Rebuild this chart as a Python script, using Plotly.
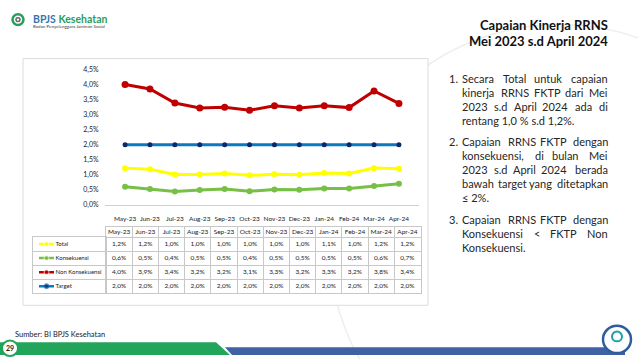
import plotly.graph_objects as go

W, H = 638, 359
def px(x): return x / W
def py(y): return 1 - y / H

# ---------------- data ----------------
months = ["May-23", "Jun-23", "Jul-23", "Aug-23", "Sep-23", "Oct-23",
          "Nov-23", "Dec-23", "Jan-24", "Feb-24", "Mar-24", "Apr-24"]
total = [1.22, 1.18, 1.01, 1.01, 1.04, 0.98, 1.02, 1.00, 1.06, 1.04, 1.22, 1.20]
konsekuensi = [0.60, 0.53, 0.44, 0.49, 0.53, 0.45, 0.51, 0.50, 0.54, 0.54, 0.63, 0.70]
non_konsekuensi = [4.00, 3.85, 3.38, 3.22, 3.24, 3.14, 3.29, 3.22, 3.29, 3.23, 3.78, 3.37]
target = [2.0] * 12

total_lbl = ["1,2%", "1,2%", "1,0%", "1,0%", "1,0%", "1,0%", "1,0%", "1,0%", "1,1%", "1,0%", "1,2%", "1,2%"]
konsekuensi_lbl = ["0,6%", "0,5%", "0,4%", "0,5%", "0,5%", "0,4%", "0,5%", "0,5%", "0,5%", "0,5%", "0,6%", "0,7%"]
non_konsekuensi_lbl = ["4,0%", "3,9%", "3,4%", "3,2%", "3,2%", "3,1%", "3,3%", "3,2%", "3,3%", "3,2%", "3,8%", "3,4%"]
target_lbl = ["2,0%"] * 12

series_names = ["Total", "Konsekuensi", "Non Konsekuensi", "Target"]
series_vals = [total, konsekuensi, non_konsekuensi, target]
series_lbls = [total_lbl, konsekuensi_lbl, non_konsekuensi_lbl, target_lbl]
line_colors = ["#FFFF00", "#77BF45", "#C00000", "#0B78C2"]
marker_colors = ["#FFFF00", "#77BF45", "#C00000", "#0A2A66"]
marker_sizes = [6, 6, 7, 5]

FONT = "Lato"
TXT = "#222222"
GRID = "#c8c8c8"
fig = go.Figure()

# ---------------- chart lines ----------------
for name, vals, lc, mc, ms in zip(series_names, series_vals, line_colors, marker_colors, marker_sizes):
    fig.add_trace(go.Scatter(x=months, y=vals, mode="lines+markers", name=name,
                             line=dict(color=lc, width=3), marker=dict(color=mc, size=ms),
                             showlegend=False, hoverinfo="skip"))

# ---------------- data table (grid axes x3/y3, legend column x2/y2) ----------------
fig.add_trace(go.Scatter(x=months, y=[-0.35] * 12, text=months, mode="text",
                         textfont=dict(family=FONT, size=6.5, color=TXT),
                         xaxis="x3", yaxis="y3", showlegend=False, hoverinfo="skip"))
for r, lbls in enumerate(series_lbls):
    fig.add_trace(go.Scatter(x=months, y=[r + 0.5] * 12, text=lbls, mode="text",
                             textfont=dict(family=FONT, size=6.5, color=TXT),
                             xaxis="x3", yaxis="y3", showlegend=False, hoverinfo="skip"))

for r, (name, lc, mc) in enumerate(zip(series_names, line_colors, marker_colors)):
    fig.add_trace(go.Scatter(x=[6, 13.5, 21], y=[r + 0.5] * 3, mode="lines+markers",
                             line=dict(color=lc, width=2.5), marker=dict(color=mc, size=[0, 5, 0]),
                             xaxis="x2", yaxis="y2", showlegend=False, hoverinfo="skip"))
fig.add_trace(go.Scatter(x=[22.5] * 4, y=[r + 0.5 for r in range(4)], text=series_names,
                         mode="text", textposition="middle right",
                         textfont=dict(family=FONT, size=6, color=TXT),
                         xaxis="x2", yaxis="y2", showlegend=False, hoverinfo="skip"))

# ---------------- right-hand text ----------------
def tw(s, size):
    widths = {' ': 0.19, 'i': 0.25, 'l': 0.25, 'j': 0.25, 't': 0.36, 'f': 0.33, 'r': 0.38,
              '.': 0.22, ',': 0.22, 's': 0.43, 'c': 0.47, 'm': 0.84, 'w': 0.77, 'M': 0.9,
              'N': 0.76, 'K': 0.68, 'R': 0.63, 'F': 0.57, 'T': 0.6, 'S': 0.53, 'C': 0.69,
              'P': 0.6, '%': 0.78, 'A': 0.69, '<': 0.58, '≤': 0.58}
    w = 0
    for ch in s:
        if ch in widths:
            w += widths[ch]
        elif ch.isdigit():
            w += 0.58
        elif ch.isupper():
            w += 0.65
        else:
            w += 0.54
    return w * size

TS = 11
LEFT, RIGHT, NUMX, LH = 461, 609, 448, 14.35
items = [
    ("1.", 75, ["Secara Total untuk capaian", "kinerja RRNS FKTP dari Mei",
                "2023 s.d April 2024 ada di", "rentang 1,0 % s.d 1,2%."]),
    ("2.", 140, ["Capaian RRNS FKTP dengan", "konsekuensi, di bulan Mei",
                 "2023 s.d April 2024 berada", "bawah target yang ditetapkan", "≤ 2%."]),
    ("3.", 220, ["Capaian RRNS FKTP dengan", "Konsekuensi < FKTP Non", "Konsekuensi."]),
]
annotations = []
def ann(x, y, text, size, color="#262626", xanchor="left"):
    annotations.append(dict(x=px(x), y=py(y), xref="paper", yref="paper", text=text,
                            showarrow=False, xanchor=xanchor, yanchor="middle", borderpad=0,
                            font=dict(family=FONT, size=size, color=color)))

for num, y0, lines in items:
    ann(NUMX, y0, num, TS)
    for k, line in enumerate(lines):
        y = y0 + LH * k
        words = line.split(" ")
        n = len(words)
        if k == len(lines) - 1 or n == 1:
            ann(LEFT, y, line, TS)
            continue
        ws = [tw(w, TS) for w in words]
        gap = (RIGHT - LEFT - sum(ws)) / (n - 1)
        lefts = []
        xpos = LEFT
        for wd in ws:
            lefts.append(xpos)
            xpos += wd + gap
        for i, w in enumerate(words):
            if i == 0:
                ann(LEFT, y, w, TS)
            elif i == n - 1:
                ann(RIGHT, y, w, TS, xanchor="right")
            elif 2 * i + 1 == n:
                ann(lefts[i] + ws[i] / 2, y, w, TS, xanchor="center")
            elif 2 * i < n:
                ann(lefts[i], y, w, TS)
            else:
                ann(lefts[i] + ws[i], y, w, TS, xanchor="right")

ann(609, 21, "<b>Capaian Kinerja RRNS</b>", 13, color="#111111", xanchor="right")
ann(609, 37, "<b>Mei 2023 s.d April 2024</b>", 13, color="#111111", xanchor="right")

# header logo text
ann(32, 14, "<b><span style='color:#3b73ad'>BPJS</span> <span style='color:#2a9d5c'>Kesehatan</span></b>", 10.5)
ann(32, 22.5, "Badan Penyelenggara Jaminan Sosial", 4.5, color="#3a3a3a")

# footer
ann(14, 338, "Sumber: BI BPJS Kesehatan", 7.5, color=TXT)
ann(10, 351.5, "<b>29</b>", 7, color="#222222", xanchor="center")

# ---------------- shapes ----------------
def rect(x0, y0, x1, y1, **kw):
    return dict(type="rect", xref="paper", yref="paper", x0=px(x0), x1=px(x1), y0=py(y1), y1=py(y0), **kw)

def circ(cx, cy, r, **kw):
    return dict(type="circle", xref="paper", yref="paper", x0=px(cx - r), x1=px(cx + r),
                y0=py(cy + r), y1=py(cy - r), **kw)

def path(pts, **kw):
    d = "M " + " L ".join(f"{px(x)},{py(y)}" for x, y in pts) + " Z"
    return dict(type="path", xref="paper", yref="paper", path=d, **kw)

shapes = [
    circ(560, 250, 230, line=dict(color="#eeeeee", width=1.5), fillcolor="rgba(0,0,0,0)", layer="below"),
    rect(23, 55, 428, 308, line=dict(color="#dcdcdc", width=1), fillcolor="white", layer="below"),
    path([(225, 351), (625, 351), (625, 359), (232, 359)], line=dict(width=0), fillcolor="#3f62a5", layer="above"),
    path([(0, 346), (216, 346), (230, 359), (0, 359)], line=dict(width=0), fillcolor="#22a45a", layer="above"),
    circ(10, 352, 8, line=dict(color="#22a45a", width=2), fillcolor="white", layer="above"),
    circ(617, 343, 14, line=dict(color="#2d5d9f", width=2.5), fillcolor="white", layer="above"),
    circ(617, 340, 5, line=dict(color="#1f9fa8", width=2), fillcolor="white", layer="above"),
    circ(18, 15, 5.5, line=dict(color="#2a9d5c", width=2.5), fillcolor="white", layer="above"),
    circ(18, 15, 2, line=dict(color="#5a6a70", width=1.5), fillcolor="white", layer="above"),
]

grid_axis = dict(showline=True, mirror=True, linecolor=GRID, linewidth=1, showgrid=True,
                 gridcolor=GRID, gridwidth=1, zeroline=False, showticklabels=False, ticks="")

fig.update_layout(
    width=W, height=H, margin=dict(l=0, r=0, t=0, b=0),
    paper_bgcolor="white", plot_bgcolor="rgba(0,0,0,0)",
    separators=",.",
    font=dict(family=FONT, color=TXT),
    xaxis=dict(domain=[px(105), px(419)], type="category", showgrid=False, zeroline=False,
               showline=True, linecolor="#d0d0d0", linewidth=1, ticks="outside", ticklen=7,
               tickangle=0, tickcolor="rgba(0,0,0,0)", tickfont=dict(family=FONT, size=6.5, color=TXT)),
    yaxis=dict(domain=[py(205), py(66)], range=[0, 4.5], dtick=0.5, tickformat=".1f",
               ticksuffix="%", showgrid=False, zeroline=False, showline=False,
               ticks="outside", ticklen=4, tickcolor="rgba(0,0,0,0)",
               tickfont=dict(family=FONT, size=7, color=TXT)),
    xaxis2=dict(domain=[px(33), px(106)], range=[0, 73], anchor="y2",
                tickvals=[], **grid_axis),
    yaxis2=dict(domain=[py(295.6), py(238)], range=[4, 0], anchor="x2",
                tickvals=[1, 2, 3], **grid_axis),
    xaxis3=dict(domain=[px(106), px(420.5)], type="category", categoryarray=months,
                categoryorder="array", range=[-0.5, 11.5], anchor="y3",
                tickson="boundaries", **grid_axis),
    yaxis3=dict(domain=[py(295.6), py(228)], range=[4, -0.7], anchor="x3",
                tickvals=[0, 1, 2, 3], **grid_axis),
    shapes=shapes, annotations=annotations,
)

fig.write_html("out.html", config={"displayModeBar": False},
               post_script="document.body.style.margin='0px';document.body.style.overflow='hidden';")
